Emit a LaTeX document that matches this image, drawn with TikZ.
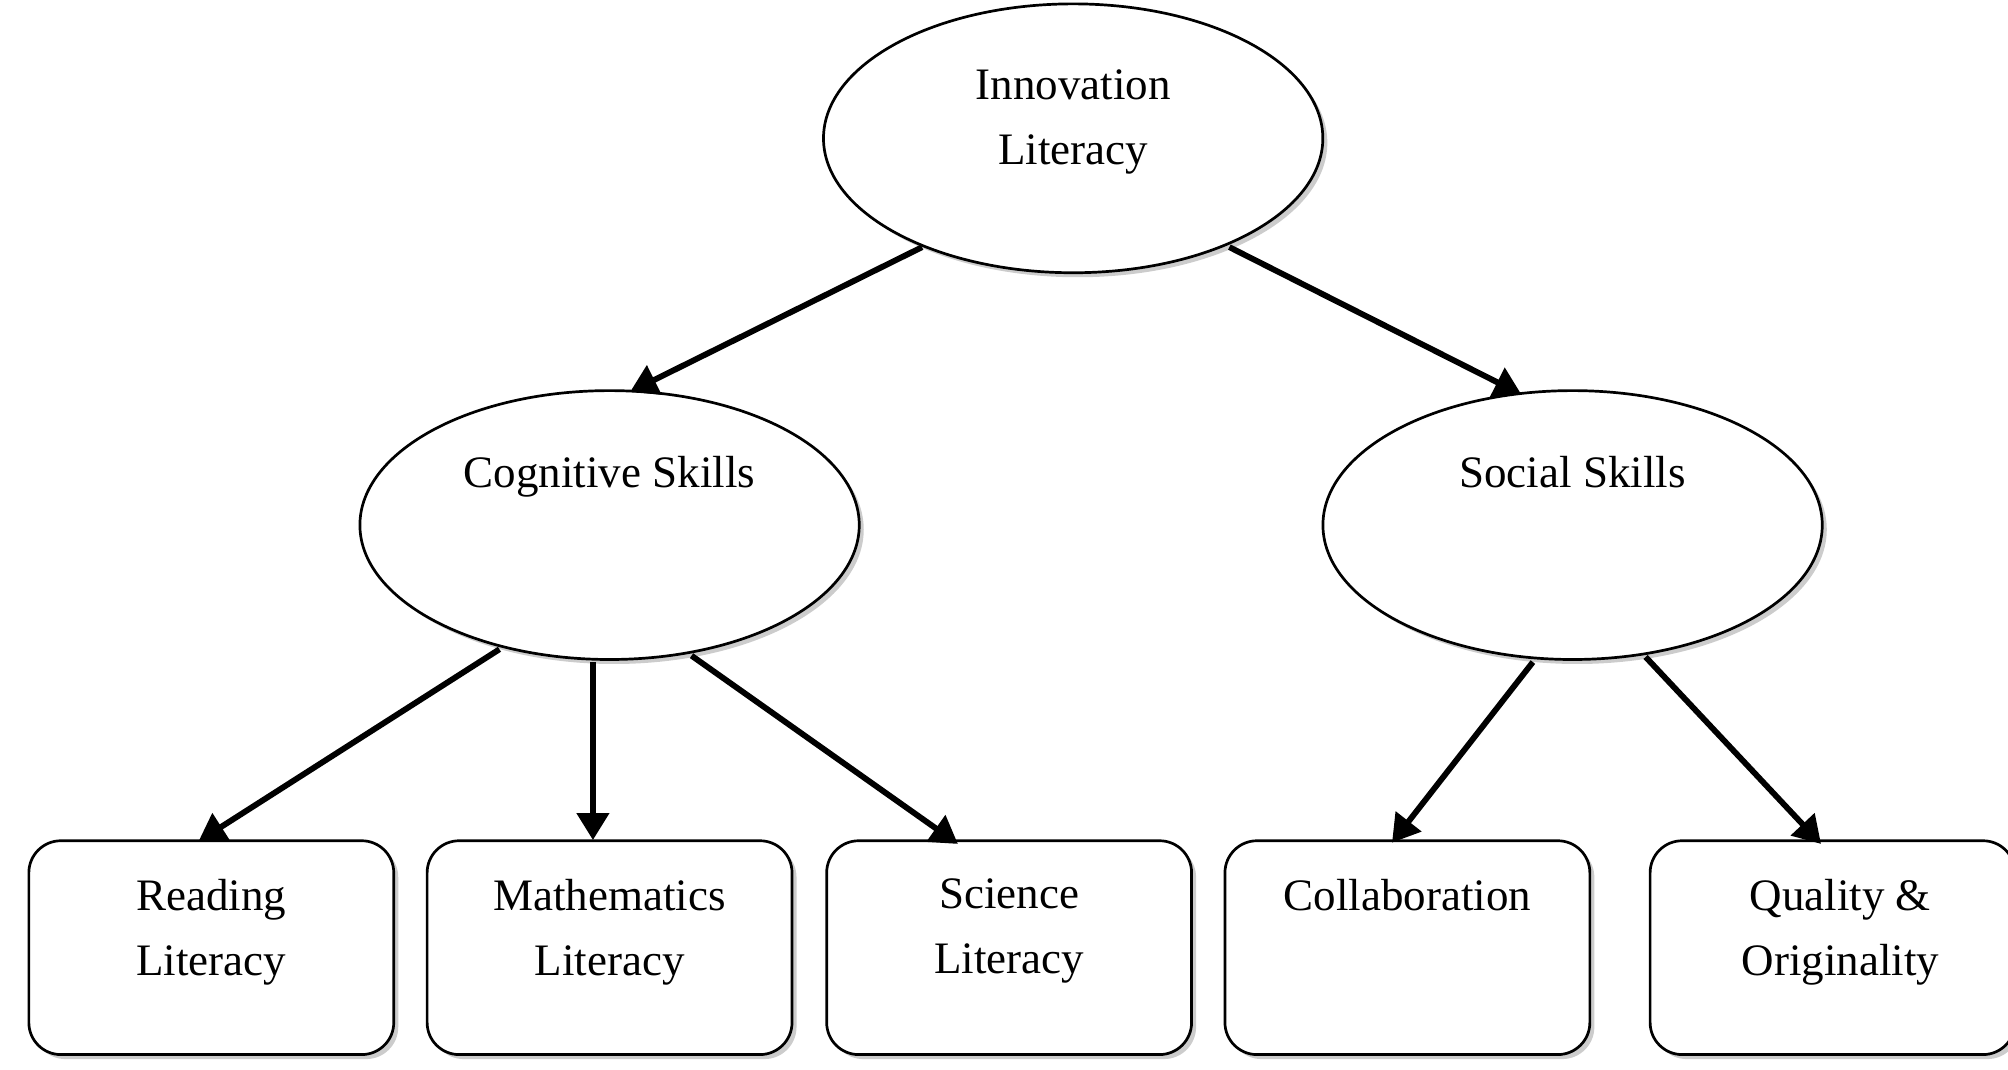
\documentclass[tikz,border=0pt]{standalone}
\usepackage{fontspec}
\setmainfont{Liberation Serif}
\usetikzlibrary{shapes.geometric,arrows.meta,shadows}
\begin{document}
\begin{tikzpicture}[x=0.02cm,y=-0.02cm,
  ell/.style={draw,line width=1.2pt,ellipse,minimum width=7.8cm,minimum height=4.2cm,fill=white,drop shadow={shadow xshift=2pt,shadow yshift=-2pt,fill=black!40}},
  box/.style={draw,line width=1.2pt,rounded corners=0.5cm,minimum width=5.7cm,minimum height=3.34cm,fill=white,drop shadow={shadow xshift=2pt,shadow yshift=-2pt,fill=black!40}},
  lab/.style={align=center,font=\fontsize{20}{29}\selectfont,anchor=north},
  arr/.style={line width=2.6pt,-{Triangle[length=12pt,width=14pt]}}]
\useasboundingbox (0,0) rectangle (1568,835);
\node[ell] (inn) at (838,108) {};
\node[ell] (cog) at (476,410) {};
\node[ell] (soc) at (1228,410) {};
\node[box] (rd) at (165,740) {};
\node[box] (ma) at (476,740) {};
\node[box] (sc) at (788,740) {};
\node[box] (co) at (1099,740) {};
\node[box] (qu) at (1431,740) {};
\node[lab] (tinn) at (838,48) {Innovation\\Literacy};
\node[lab] (tcog) at (476,350) {Cognitive Skills};
\node[lab] (tsoc) at (1228,350) {Social Skills};
\node[lab] (trd) at (165,680) {Reading\\Literacy};
\node[lab] (tma) at (476,680) {Mathematics\\Literacy};
\node[lab] (tsc) at (788,680) {Science\\Literacy};
\node[lab] (tco) at (1099,680) {Collaboration};
\node[lab] (tqu) at (1437,680) {Quality \&\\Originality};
\coordinate (a1) at (720,193); \coordinate (b1) at (492,306);
\coordinate (a2) at (960,193); \coordinate (b2) at (1188,308);
\coordinate (a3) at (390,507); \coordinate (b3) at (155,657);
\coordinate (a4) at (463,517); \coordinate (b4) at (463,656);
\coordinate (a5) at (540,512); \coordinate (b5) at (748,659);
\coordinate (a6) at (1197,517); \coordinate (b6) at (1087,658);
\coordinate (a7) at (1285,513); \coordinate (b7) at (1422,659);
\foreach \i in {1,...,7} \draw[arr] (a\i) -- (b\i);
\end{tikzpicture}
\end{document}
